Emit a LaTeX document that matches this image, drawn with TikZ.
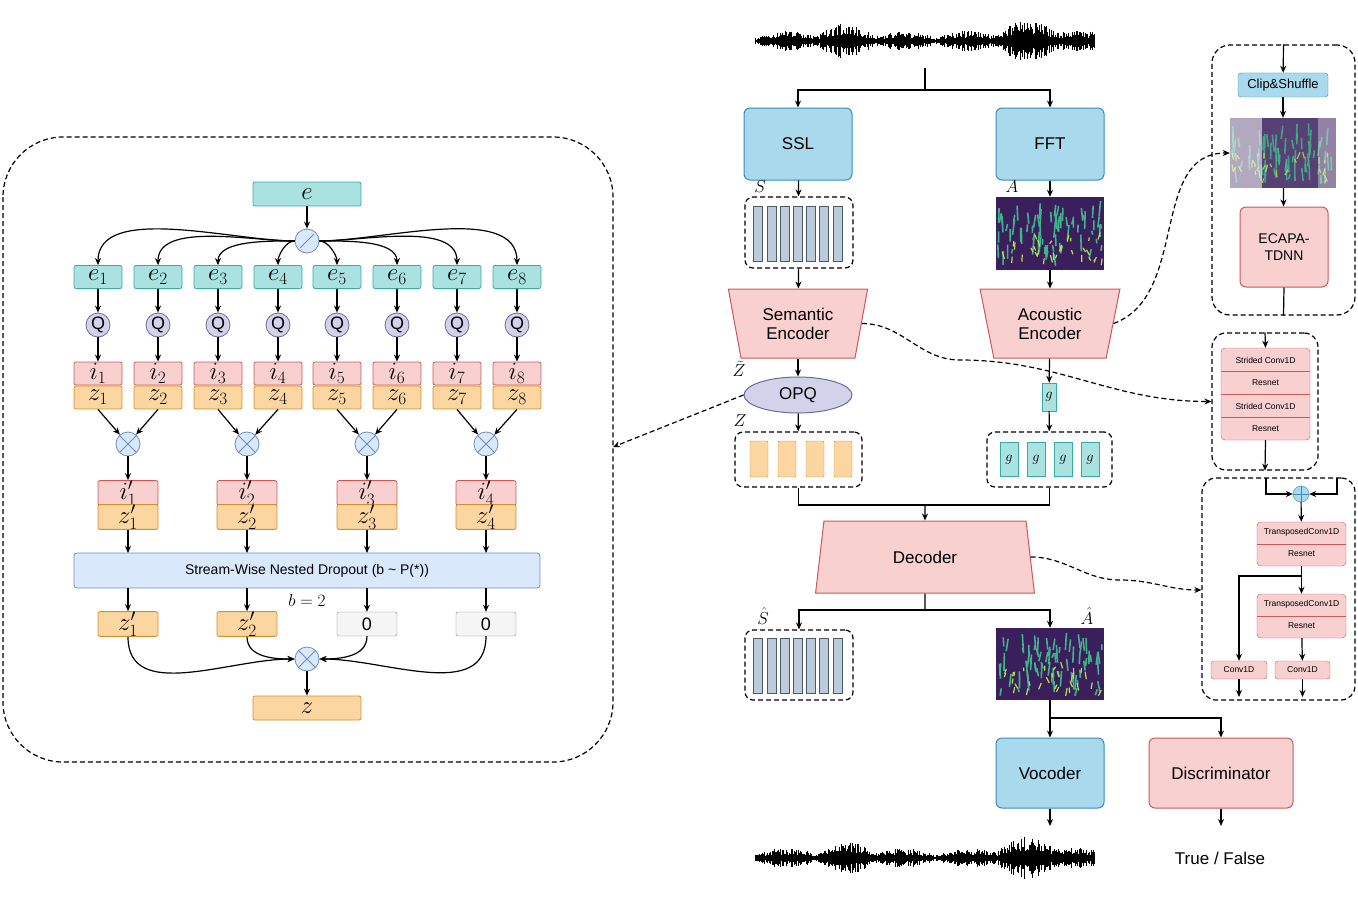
\documentclass[tikz,border=0pt]{standalone}
\usepackage{fontspec}
\setmainfont{Liberation Sans}
\usetikzlibrary{shapes.geometric,arrows.meta,calc}
\definecolor{tealF}{HTML}{A9E2E0}\definecolor{tealD}{HTML}{3AA9A6}
\definecolor{pinkF}{HTML}{F8D0CF}\definecolor{pinkD}{HTML}{C85A5A}
\definecolor{oraF}{HTML}{FBD6A0}\definecolor{oraD}{HTML}{D4902C}
\definecolor{lavF}{HTML}{D4D2EA}\definecolor{lavD}{HTML}{6C6A99}
\definecolor{bluF}{HTML}{A9D9EC}\definecolor{bluD}{HTML}{3B8BB5}
\definecolor{drpF}{HTML}{DAE8FC}\definecolor{drpD}{HTML}{6C8EBF}
\definecolor{barF}{HTML}{BCCBDA}\definecolor{barD}{HTML}{4A5A6A}
\definecolor{specBG}{HTML}{3A1F5C}\definecolor{specG}{HTML}{3FB38A}\definecolor{specY}{HTML}{B8DE4A}
\newcommand\wave[2]{%
 \begin{scope}[shift={(#1,#2)}]
 \foreach \i in {0,...,339}{%
  \pgfmathsetmacro\env{3+7*abs(sin(\i*3))+12*exp(-((\i-275)/30)^2)+8*exp(-((\i-90)/25)^2)}
  \pgfmathsetmacro\a{\env*(0.3+0.7*rnd)}
  \draw[line width=1pt] (\i,-\a) -- (\i,\a);}
 \draw[line width=1pt] (0,0)--(340,0);
 \end{scope}}
\newcommand\spec[5]{% x y w h opacity
 \begin{scope}[opacity=#5]
 \fill[specBG] (#1,#2) rectangle ++(#3,#4);
 \foreach \k in {1,...,70}{%
  \pgfmathsetmacro\xx{#1+2+rnd*(#3-4)}
  \pgfmathsetmacro\yy{#2+#4*(0.25+0.7*rnd)}
  \pgfmathsetmacro\ll{4+rnd*14}
  \draw[specG,line width=1.6pt] (\xx,\yy) -- ++(rnd*4-2,-\ll);}
 \foreach \k in {1,...,30}{%
  \pgfmathsetmacro\xx{#1+2+rnd*(#3-4)}
  \pgfmathsetmacro\yy{#2+#4*(0.55+0.4*rnd)}
  \draw[specY,line width=1.2pt] (\xx,\yy) -- ++(rnd*6-3,-3-rnd*5);}
 \end{scope}}
\begin{document}
\begin{tikzpicture}[x=1pt,y=-1pt,
 >={Stealth[length=7pt,width=6pt]},
 arr/.style={->,line width=1.2pt},
 ln/.style={line width=1.2pt},
 dsh/.style={dash pattern=on 5pt off 3pt},
 dbox/.style={draw,dsh,line width=1.2pt,rounded corners=8pt},
 mf/.style={font=\fontsize{24}{24}\selectfont},
 tl/.style={draw=tealD,fill=tealF,rounded corners=2pt,minimum width=48pt,minimum height=23pt,inner sep=0pt,mf,line width=0.8pt},
 pk/.style={draw=pinkD,fill=pinkF,rounded corners=2pt,minimum width=48pt,minimum height=24pt,inner sep=0pt,mf,line width=0.8pt},
 or/.style={draw=oraD,fill=oraF,rounded corners=2pt,minimum width=48pt,minimum height=24pt,inner sep=0pt,mf,line width=0.8pt},
 qc/.style={circle,draw=lavD,fill=lavF,minimum size=24pt,inner sep=0pt,font=\fontsize{18}{18}\selectfont,line width=0.8pt},
 xc/.style={circle,draw=drpD,fill=drpF,minimum size=24pt,inner sep=0pt,line width=0.8pt},
 big/.style={draw=bluD,fill=bluF,rounded corners=6pt,minimum width=108pt,minimum height=72pt,font=\fontsize{17}{17}\selectfont,align=center,line width=1pt},
 bigp/.style={draw=pinkD,fill=pinkF,rounded corners=6pt,font=\fontsize{17}{17}\selectfont,align=center,line width=1pt},
 trap/.style={trapezium,draw=pinkD,fill=pinkF,trapezium stretches=true,line width=1pt,font=\fontsize{17}{19}\selectfont,align=center,inner sep=0pt},
 sm/.style={draw=pinkD,fill=pinkF,minimum width=89pt,minimum height=22pt,inner sep=0pt,font=\fontsize{8.5}{9}\selectfont},
 lab/.style={font=\fontsize{17}{17}\selectfont,inner sep=0pt},
]
\useasboundingbox (0,0) rectangle (1358,899);
\pgfmathsetseed{7}
%================ LEFT PANEL
\draw[dsh,line width=1.2pt,rounded corners=60pt] (3,137) rectangle (613,762);
\node[tl,minimum width=108pt,minimum height=24pt] (e) at (307,194) {$e$};
\node[xc] (sl) at (307,241) {};
\draw[drpD,line width=0.8pt] ($(sl)+(-7,7)$) -- ($(sl)+(7,-7)$);
\draw[arr] (e) -- (sl);
\foreach \n/\x in {1/98,2/158,3/218,4/278,5/337,6/397,7/457,8/517}{
 \node[tl] (e\n) at (\x,277) {$e_{\n}$};
 \node[qc] (q\n) at (\x,325) {Q};
 \node[pk,minimum height=23pt] (i\n) at (\x,373.5) {$i_{\n}$};
 \node[or,minimum height=23pt] (z\n) at (\x,397.5) {$z_{\n}$};
 \draw[arr] (e\n) -- (q\n);
 \draw[arr] (q\n) -- (i\n);
}
\foreach \n in {1,2,3,4}{\draw[arr] (sl.west) to[out=180,in=90,looseness=0.8] (e\n.north);}
\foreach \n in {5,6,7,8}{\draw[arr] (sl.east) to[out=0,in=90,looseness=0.8] (e\n.north);}
\foreach \k/\x/\a/\b in {1/128/1/2,2/247/3/4,3/367/5/6,4/486/7/8}{
 \node[xc] (m\k) at (\x,444) {};
 \draw[drpD,line width=0.8pt] ($(m\k)+(-8.5,-8.5)$) -- ($(m\k)+(8.5,8.5)$) ($(m\k)+(-8.5,8.5)$) -- ($(m\k)+(8.5,-8.5)$);
 \draw[arr] (z\a.south) -- (m\k);
 \draw[arr] (z\b.south) -- (m\k);
 \node[pk,minimum width=60pt] (ip\k) at (\x,493) {$i'_{\k}$};
 \node[or,minimum width=60pt] (zp\k) at (\x,517) {$z'_{\k}$};
 \draw[arr] (m\k) -- (ip\k);
}
\node[draw=drpD,fill=drpF,rounded corners=3pt,minimum width=466pt,minimum height=35pt,line width=0.8pt,font=\fontsize{14}{14}\selectfont] (drop) at (307,570.5) {Stream-Wise Nested Dropout (b \textasciitilde{} P(*))};
\foreach \k/\x in {1/128,2/247,3/367,4/486}{\draw[arr] (zp\k.south) -- (\x,553);}
\node[font=\fontsize{16}{16}\selectfont] (bl) at (307,600) {$b=2$};
\node[or,minimum width=60pt] (o1) at (128,624) {$z'_{1}$};
\node[or,minimum width=60pt] (o2) at (247,624) {$z'_{2}$};
\node[draw=gray,fill=gray!8,rounded corners=2pt,minimum width=60pt,minimum height=24pt,inner sep=0pt,font=\fontsize{18}{18}\selectfont] (o3) at (367,624) {0};
\node[draw=gray,fill=gray!8,rounded corners=2pt,minimum width=60pt,minimum height=24pt,inner sep=0pt,font=\fontsize{18}{18}\selectfont] (o4) at (486,624) {0};
\foreach \k/\x in {1/128,2/247,3/367,4/486}{\draw[arr] (\x,588) -- (o\k.north);}
\node[xc] (mx) at (307,659) {};
\draw[drpD,line width=0.8pt] ($(mx)+(-8.5,-8.5)$) -- ($(mx)+(8.5,8.5)$) ($(mx)+(-8.5,8.5)$) -- ($(mx)+(8.5,-8.5)$);
\draw[arr] (o1.south) to[out=-90,in=180] (mx.west);
\draw[arr] (o2.south) to[out=-90,in=180] (mx.west);
\draw[arr] (o3.south) to[out=-90,in=0] (mx.east);
\draw[arr] (o4.south) to[out=-90,in=0] (mx.east);
\node[or,minimum width=108pt] (z) at (307,708) {$z$};
\draw[arr] (mx) -- (z);
%================ MIDDLE
\wave{755}{41}
\wave{755}{858}
\coordinate (w1) at (925,68);
\node[big] (ssl) at (798,144) {SSL};
\node[big] (fft) at (1050,144) {FFT};
\draw[ln] (w1) -- (925,90);
\draw[arr] (925,90) -| (ssl.north);
\draw[arr] (925,90) -| (fft.north);
\node[dbox,minimum width=108pt,minimum height=71pt] (sbox) at (799,232.5) {};
\foreach \j in {0,...,6}{\draw[barD,fill=barF] (753.5+\j*13.2,206) rectangle ++(9,55);}
\node[lab] (sl1) at (760,187) {$S$};
\draw[arr] (ssl) -- (sbox);
\spec{996}{197}{108}{73}{1}
\node[minimum width=108pt,minimum height=73pt,inner sep=0pt] (aspec) at (1050,233.5) {};
\node[lab] (al) at (1012,187) {$A$};
\draw[arr] (fft) -- (aspec);
\node[trap,shape border rotate=180,minimum width=140pt,minimum height=69pt,trapezium angle=76] (senc) at (798,323.5) {Semantic\\Encoder};
\node[trap,shape border rotate=180,minimum width=140pt,minimum height=69pt,trapezium angle=76] (aenc) at (1050,323.5) {Acoustic\\Encoder};
\draw[arr] (sbox) -- (senc);
\draw[arr] (aspec) -- (aenc);
\node[lab] (zt) at (739,369) {$\tilde{Z}$};
\node[ellipse,draw=lavD,fill=lavF,minimum width=108pt,minimum height=36pt,line width=1pt,font=\fontsize{17}{17}\selectfont] (opq) at (798,395) {OPQ};
\draw[arr] (senc) -- (opq);
\node[lab] (zl) at (740,421) {$Z$};
\node[dbox,minimum width=127pt,minimum height=55pt] (zbox) at (798.5,459.5) {};
\foreach \j in {0,...,3}{\draw[oraD,fill=oraF,rounded corners=1pt] (750+\j*28,441) rectangle ++(18,36);}
\draw[arr] (opq) -- (zbox);
\node[draw=tealD,fill=tealF,minimum width=14pt,minimum height=28pt,inner sep=0pt,font=\fontsize{15}{15}\selectfont] (g) at (1049,397) {$g$};
\draw[arr] (aenc) -- (g);
\node[dbox,minimum width=125pt,minimum height=55pt] (gbox) at (1049.5,459.5) {};
\foreach \j in {0,...,3}{\node[draw=tealD,fill=tealF,minimum width=18pt,minimum height=34pt,inner sep=0pt,font=\fontsize{15}{15}\selectfont] (g\j) at (1009+\j*27,459.5) {$g$};}
\draw[arr] (g) -- (gbox);
\node[trap,minimum width=220pt,minimum height=72pt,trapezium angle=78,font=\fontsize{17}{17}\selectfont] (dec) at (925,557) {Decoder};
\draw[ln] (zbox.south) |- (925,505);
\draw[ln] (gbox.south) |- (925,505);
\draw[arr] (925,505) -- (dec.north);
\node[dbox,minimum width=108pt,minimum height=70pt] (shbox) at (799,665) {};
\foreach \j in {0,...,6}{\draw[barD,fill=barF] (753.5+\j*13.2,638) rectangle ++(9,55);}
\node[lab] (shl) at (763,616) {$\hat{S}$};
\spec{996}{628}{108}{72}{1}
\node[minimum width=108pt,minimum height=72pt,inner sep=0pt] (ahspec) at (1050,664) {};
\node[lab] (ahl) at (1087,616) {$\hat{A}$};
\draw[ln] (dec.south) -- (925,610);
\draw[arr] (925,610) -| (shbox.north);
\draw[arr] (925,610) -| (ahspec.north);
\node[big,minimum height=70pt] (voc) at (1050,773) {Vocoder};
\node[bigp,minimum width=144pt,minimum height=70pt] (disc) at (1221,773) {Discriminator};
\draw[ln] (ahspec.south) -- (1050,718);
\draw[arr] (1050,718) -- (voc.north);
\draw[arr] (1050,718) -| (disc.north);
\coordinate (w2) at (1050,826);
\draw[arr] (voc.south) -- (w2);
\node[font=\fontsize{17}{17}\selectfont] (tf) at (1220,858) {True / False};
\draw[arr] (disc.south) -- (1221,826);
%================ RIGHT PANELS
\node[dbox,rounded corners=18pt,minimum width=143pt,minimum height=270pt] (p1) at (1283.5,180) {};
\node[draw=bluD,fill=bluF,rounded corners=3pt,minimum width=90pt,minimum height=24pt,inner sep=0pt,font=\fontsize{13}{13}\selectfont] (clip) at (1283,85) {Clip\&Shuffle};
\draw[arr] (p1.north) -- (clip);
\spec{1230}{118}{106}{70}{0.85}
\fill[white,opacity=0.55] (1230,118) rectangle (1262,188);
\fill[white,opacity=0.35] (1318,118) rectangle (1336,188);
\node[minimum width=106pt,minimum height=70pt,inner sep=0pt] (cspec) at (1283,153) {};
\draw[arr] (clip) -- (cspec);
\node[bigp,minimum width=88pt,minimum height=80pt,font=\fontsize{14}{17}\selectfont] (ecapa) at (1284,247) {ECAPA-\\TDNN};
\draw[arr] (cspec) -- (ecapa);
\draw[ln] (ecapa.south) -- (p1.south);
\draw[arr,dsh] (aenc.east) to[out=20,in=180] (cspec.west);
\node[dbox,rounded corners=14pt,minimum width=106pt,minimum height=137pt] (p2) at (1265,401.5) {};
\node[sm,rounded corners=4pt,minimum height=92pt] (sc) at (1265.5,394) {};
\draw[pinkD] (1221,371)--(1310,371) (1221,394)--(1310,394) (1221,417)--(1310,417);
\node[font=\fontsize{8.5}{9}\selectfont] (s1) at (1265.5,360) {Strided Conv1D};
\node[font=\fontsize{8.5}{9}\selectfont] (s2) at (1265.5,383) {Resnet};
\node[font=\fontsize{8.5}{9}\selectfont] (s3) at (1265.5,406) {Strided Conv1D};
\node[font=\fontsize{8.5}{9}\selectfont] (s4) at (1265.5,429) {Resnet};
\draw[arr] (p2.north) -- (sc.north);
\draw[arr] (sc.south) -- (p2.south);
\draw[arr,dsh] (senc.east) to[out=0,in=180] (960,360) to[out=0,in=180] (p2.west);
\node[dbox,rounded corners=14pt,minimum width=153pt,minimum height=222pt] (p3) at (1278.5,589) {};
\node[circle,draw=bluD,fill=bluF,minimum size=16pt,inner sep=0pt] (pl) at (1301,494) {};
\draw[bluD] ($(pl)+(-8,0)$)--($(pl)+(8,0)$) ($(pl)+(0,-8)$)--($(pl)+(0,8)$);
\draw[arr] (1266,478) |- (pl.west);
\draw[arr] (1337,478) |- (pl.east);
\node[sm,rounded corners=4pt,minimum height=44pt] (t1) at (1301.5,544) {};
\draw[pinkD] (1257,544)--(1346,544);
\node[font=\fontsize{8.5}{9}\selectfont] (t1a) at (1301.5,532) {TransposedConv1D};
\node[font=\fontsize{8.5}{9}\selectfont] (t1b) at (1301.5,554) {Resnet};
\draw[arr] (pl) -- (t1);
\node[sm,rounded corners=4pt,minimum height=44pt] (t2) at (1301.5,616) {};
\draw[pinkD] (1257,616)--(1346,616);
\node[font=\fontsize{8.5}{9}\selectfont] (t2a) at (1301.5,604) {TransposedConv1D};
\node[font=\fontsize{8.5}{9}\selectfont] (t2b) at (1301.5,626) {Resnet};
\draw[arr] (t1) -- (t2);
\node[sm,rounded corners=3pt,minimum width=56pt,minimum height=18pt] (c1) at (1239,670) {Conv1D};
\node[sm,rounded corners=3pt,minimum width=55pt,minimum height=18pt] (c2) at (1302.5,670) {Conv1D};
\draw[arr] (1301.5,576) -| (c1.north);
\draw[arr] (t2) -- (c2);
\draw[arr] (c1.south) -- (1239,697);
\draw[arr] (c2.south) -- (1302.5,697);
\draw[arr,dsh] (dec.east) to[out=0,in=180] (1120,580) to[out=0,in=180] (p3.west |- 0,590);
\draw[arr,dsh] (opq.west) -- (613,447);
\end{tikzpicture}
\end{document}
